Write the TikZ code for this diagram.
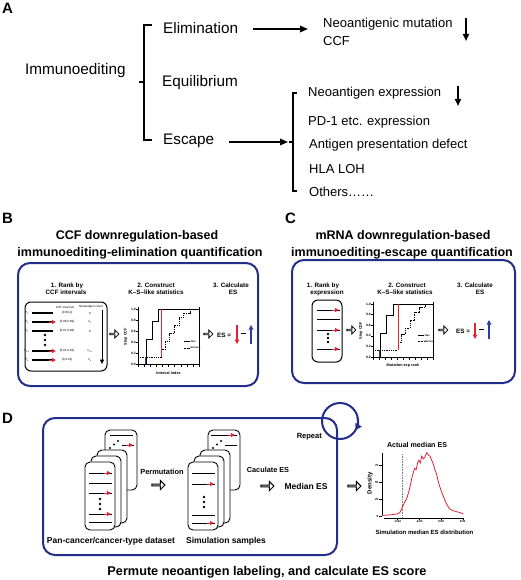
\documentclass[tikz,border=0pt]{standalone}
\usepackage{fontspec}
\setmainfont{Liberation Sans}
\usetikzlibrary{arrows.meta,shapes.arrows}
\definecolor{navy}{RGB}{35,45,140}
\definecolor{myred}{RGB}{228,32,52}
\definecolor{myblue}{RGB}{45,60,165}
\newcommand\fsz[1]{\fontsize{#1}{#1}\selectfont}
\newcommand\ksplot[4]{%
  \draw[line width=0.35pt] (0,1.04) -- (0,0) -- (10,0) -- (10,1.04);
  \foreach \v/\l in {0/0.0,0.2/0.2,0.4/0.4,0.6/0.6,0.8/0.8,1/1.0}
    {\draw[line width=0.3pt] (0,\v) -- (-0.3,\v) node[anchor=east, inner sep=0.4pt, font=\fsz{3.3}\bfseries] {\l};}
  \foreach \i in {0,...,10} {\draw[line width=0.3pt] (\i,0) -- (\i,-0.05);}
  \node[rotate=90, font=\fsz{3.8}\bfseries, inner sep=0pt] at (-2.0,0.5) {#1};
  \node[font=\fsz{3.8}\bfseries, inner sep=0pt] at (5,-0.17) {#2};
  \draw[line width=0.8pt] (0,0) -| (1.3,0.45) -| (2.3,0.78) -| (3.4,1) -- (10,1);
  \draw[line width=0.7pt, dash pattern=on 1pt off 0.8pt] (0,0.13) -| ({#3},0.27) -| ({#3+0.6},0.42) -| ({#3+1.3},0.55) -| ({#3+2},0.7) -| ({#3+2.8},0.85) -| ({#3+3.6},0.93) -| ({#3+4.6},1) -- (10,1);
  \draw[myred, line width=1pt] ({#3},0.13) -- ({#3},1);
  \draw[myblue, line width=1pt] ({#4},0) -- ({#4},0.13);
  \draw[line width=0.8pt] (7.5,0.41) -- (8.5,0.41) node[anchor=west, font=\fsz{2.6}\bfseries, inner sep=0.5pt] {Neo};
  \draw[line width=0.7pt, dash pattern=on 0.8pt off 0.6pt] (7.5,0.29) -- (8.5,0.29) node[anchor=west, font=\fsz{2.6}\bfseries, inner sep=0.5pt] {Nonneo};
}
\newcommand\rankrow[4]{%
  \node[tinytxt] at (27,#1) {P\textsubscript{#2}};
  \draw[line width=2.2pt] (32,#1) -- (53,#1);
  \node[tinytxt] at (67,#1) {#3};
  \node[tinytxt] at (90,#1) {#4};
}
\begin{document}
\begin{tikzpicture}[x=1pt,y=-1pt,
  plabel/.style={font=\fsz{15}\bfseries, anchor=north west, inner sep=0pt},
  bigtxt/.style={font=\fsz{15.3}, anchor=base west, inner sep=0pt},
  medtxt/.style={font=\fsz{13}, anchor=base west, inner sep=0pt},
  ttl/.style={font=\fsz{12.5}\bfseries, anchor=base, inner sep=0pt},
  subttl/.style={font=\fsz{6.3}\bfseries, anchor=base, inner sep=0pt},
  tinytxt/.style={font=\fsz{3}, inner sep=0.3pt},
  panelbox/.style={draw=navy, line width=2pt, rounded corners=12pt},
  thinbox/.style={draw=black, line width=1pt, rounded corners=6pt},
  card/.style={draw=black, line width=0.9pt, rounded corners=5pt, fill=white},
  bigarrow/.style={line width=1.6pt, -{Triangle[length=8pt,width=6.5pt]}},
  downarrow/.style={line width=1.7pt, -{Triangle[length=7pt,width=6pt]}},
  brack/.style={line width=1.1pt},
  blockarr/.style={single arrow, draw=black, fill=white, line width=1pt, minimum height=13pt, minimum width=9pt, single arrow head extend=2pt, inner sep=0pt, single arrow tip angle=90},
  smallblock/.style={blockarr, line width=0.8pt, minimum height=9pt, minimum width=8pt, single arrow head extend=1.8pt},
  redhead/.style={myred, line width=0.8pt, -{Triangle[length=4pt,width=3.8pt]}},
  thinline/.style={line width=0.7pt},
  blackdot/.style={circle, fill=black, inner sep=0pt, minimum size=2.8pt},
  smalldot/.style={circle, fill=black, inner sep=0pt, minimum size=2.2pt},
  esarrow/.style={line width=1.1pt, -{Triangle[length=4.5pt,width=4.5pt]}},
]
\useasboundingbox (0,0) rectangle (520,580);

% ---------------- Panel A ----------------
\node[plabel] (lA) at (2,3) {A};
\node[bigtxt] (immuno) at (25,75) {Immunoediting};
\node[bigtxt] (elim) at (163,34) {Elimination};
\node[bigtxt] (equil) at (162,87) {Equilibrium};
\node[bigtxt] (escape) at (163,145) {Escape};
\draw[brack] (152,25) -- (144,25) -- (144,140) -- (152,140);
\draw[brack] (144,82) -- (139,82);
\coordinate (e1s) at (253,29); \coordinate (e1e) at (308,29);
\draw[bigarrow] (e1s) -- (e1e);
\node[medtxt] (neomut) at (323,28) {Neoantigenic mutation};
\node[medtxt] (ccf) at (323,46) {CCF};
\coordinate (d1s) at (466,18); \coordinate (d1e) at (466,41);
\draw[downarrow] (d1s) -- (d1e);
\coordinate (e2s) at (229,142); \coordinate (e2e) at (288,142);
\draw[bigarrow] (e2s) -- (e2e);
\draw[brack] (297,93) -- (293,93) -- (293,191) -- (297,191);
\draw[brack] (293,142) -- (289,142);
\node[medtxt] (neoexp) at (308,97) {Neoantigen expression};
\coordinate (d2s) at (458,86); \coordinate (d2e) at (458,106);
\draw[downarrow] (d2s) -- (d2e);
\node[medtxt] (pd1) at (308,126) {PD-1 etc. expression};
\node[medtxt] (apd) at (309,149) {Antigen presentation defect};
\node[medtxt] (hla) at (309,173) {HLA LOH};
\node[medtxt] (others) at (309,196) {Others……};

% ---------------- Panel B / C titles ----------------
\node[plabel] (lB) at (2,213) {B};
\node[plabel] (lC) at (285,213) {C};
\node[ttl] (tb1) at (137,239) {CCF downregulation-based};
\node[ttl] (tb2) at (140,256) {immunoediting-elimination quantification};
\node[ttl] (tc1) at (403,239) {mRNA downregulation-based};
\node[ttl] (tc2) at (402,256) {immunoediting-escape quantification};
\draw[panelbox] (18,263) rectangle (258,386);
\draw[panelbox] (292,260) rectangle (515,383);

% ---------------- Panel B content ----------------
\node[subttl] (b1a) at (67,287) {1. Rank by};
\node[subttl] (b1b) at (66,294) {CCF intervals};
\node[subttl] (b2a) at (156,287) {2. Construct};
\node[subttl] (b2b) at (156,294) {K–S–like statistics};
\node[subttl] (b3a) at (231,287) {3. Calculate};
\node[subttl] (b3b) at (233,294) {ES};
\draw[thinbox] (25,302) rectangle (107,371);
\node[tinytxt] (hb1) at (65,307) {CCF intervals};
\node[tinytxt] (hb2) at (91,307) {Neoantigen count};
\rankrow{313}{1}{[0.99,1]}{0}
\rankrow{322}{2}{[0.98,0.99]}{n\textsubscript{2}}
\rankrow{331}{3}{[0.97,0.98]}{0}
\rankrow{351}{n-1}{[0.01,0.02]}{n\textsubscript{n-1}}
\rankrow{360}{n}{[0,0.01]}{n\textsubscript{n}}
\draw[redhead] (49,322) -- (56,322);
\draw[redhead] (49,351) -- (56,351);
\draw[redhead] (49,360) -- (56,360);
\node[blackdot] (bd1) at (45,335) {};
\node[blackdot] (bd2) at (45,340) {};
\node[blackdot] (bd3) at (45,345) {};
\coordinate (ra1) at (102,310); \coordinate (ra2) at (102,364);
\draw[line width=0.9pt, -{Triangle[length=4.5pt,width=4pt]}] (ra1) -- (ra2);
\node[smallblock] (hbB1) at (114,334) {};
\begin{scope}[shift={(138,364)}, x=6.1pt, y=55pt]
  \ksplot{Step CCF}{Interval index}{3.9}{1.2}
\end{scope}
\node[smallblock] (hbB2) at (208,334) {};
\node[subttl, anchor=base west] (esB) at (217,337) {ES =};
\draw[esarrow, myred] (237,325) -- (237,344);
\draw[line width=0.8pt] (241,333) -- (246,333);
\draw[esarrow, myblue] (251,344) -- (251,325);

% ---------------- Panel C content ----------------
\node[subttl] (c1a) at (323,287) {1. Rank by};
\node[subttl] (c1b) at (327,294) {expression};
\node[subttl] (c2a) at (407,287) {2. Construct};
\node[subttl] (c2b) at (405,294) {K–S–like statistics};
\node[subttl] (c3a) at (475,287) {3. Calculate};
\node[subttl] (c3b) at (480,294) {ES};
\draw[thinbox] (312,300) rectangle (342,362);
\draw[thinline] (317,310) -- (340,310);
\draw[redhead] (332,310) -- (339,310);
\draw[thinline] (317,319) -- (340,319);
\draw[thinline] (317,330) -- (340,330);
\draw[redhead] (332,330) -- (339,330);
\node[blackdot] (cd1) at (328,334) {};
\node[blackdot] (cd2) at (328,338) {};
\node[blackdot] (cd3) at (328,342) {};
\draw[thinline] (317,349) -- (340,349);
\draw[redhead] (332,349) -- (339,349);
\node[smallblock] (hbC1) at (351,330) {};
\begin{scope}[shift={(373,357)}, x=6pt, y=53pt]
  \ksplot{Step CDF}{Mutation exp rank}{4.17}{1.0}
\end{scope}
\node[smallblock] (hbC2) at (443,330) {};
\node[subttl, anchor=base west] (esC) at (456,333) {ES =};
\draw[esarrow, myred] (475,323) -- (475,339);
\draw[line width=0.8pt] (479,329) -- (484,329);
\draw[esarrow, myblue] (489,339) -- (489,320);

% ---------------- Panel D ----------------
\node[plabel] (lD) at (2,413) {D};
\draw[panelbox] (43,418) rectangle (337,555);
\draw[navy, line width=2pt] (340,421) circle[radius=18];
\draw[navy, line width=2pt, -{Triangle[length=6pt,width=7pt]}] (340,421) ++(-10:18) arc[start angle=-10, end angle=30, radius=18];
\node[font=\fsz{7.5}\bfseries, anchor=base east, inner sep=0pt] (rep) at (322,438) {Repeat};

% stack 1
\draw[card] (105,430) rectangle (137,490);
\draw[thinline] (110,435) -- (133,435);
\node[smalldot] (s1a) at (110,448) {};
\node[smalldot] (s1b) at (114,444.5) {};
\node[smalldot] (s1c) at (118,441) {};
\draw[thinline] (122,445) -- (134,445);
\draw[redhead] (126,445) -- (133,445);
\draw[card] (97,450) rectangle (127,523);
\draw[card] (91,456) rectangle (121,527);
\draw[card] (85,462) rectangle (115,530);
\draw[thinline] (89,473) -- (112,473); \draw[redhead] (104,473) -- (111,473);
\draw[thinline] (89,483) -- (112,483);
\draw[thinline] (89,493) -- (112,493); \draw[redhead] (104,493) -- (111,493);
\node[blackdot] (s1d1) at (100,499) {};
\node[blackdot] (s1d2) at (100,504) {};
\node[blackdot] (s1d3) at (100,509) {};
\draw[thinline] (89,514) -- (112,514); \draw[redhead] (104,514) -- (111,514);
\draw[thinline] (89,522) -- (112,522);

% stack 2
\draw[card] (208,430) rectangle (240,490);
\draw[thinline] (211,435) -- (237,435); \draw[redhead] (228,435) -- (235,435);
\node[smalldot] (s2a) at (213,448) {};
\node[smalldot] (s2b) at (217,444.5) {};
\node[smalldot] (s2c) at (221,441) {};
\draw[thinline] (225,445) -- (237,445);
\draw[card] (200,450) rectangle (230,523);
\draw[card] (194,456) rectangle (224,527);
\draw[card] (188,462) rectangle (218,530);
\draw[thinline] (192,473) -- (215,473);
\draw[thinline] (192,484) -- (215,484); \draw[redhead] (207,484) -- (214,484);
\node[blackdot] (s2d1) at (204,497) {};
\node[blackdot] (s2d2) at (204,502) {};
\node[blackdot] (s2d3) at (204,507) {};
\draw[thinline] (192,515) -- (215,515);
\draw[thinline] (192,523) -- (215,523); \draw[redhead] (207,523) -- (214,523);

\node[font=\fsz{7.4}\bfseries, anchor=base, inner sep=0pt] (perm) at (162,474) {Permutation};
\node[blockarr] (hd1) at (158,485) {};
\node[font=\fsz{8.5}\bfseries, anchor=base, inner sep=0pt] (pan) at (111,543) {Pan-cancer/cancer-type dataset};
\node[font=\fsz{8.5}\bfseries, anchor=base, inner sep=0pt] (sim) at (226,543) {Simulation samples};
\node[font=\fsz{7.3}\bfseries, anchor=base, inner sep=0pt] (calc) at (268,472) {Caculate ES};
\node[blockarr] (hd2) at (267,486) {};
\node[font=\fsz{8.5}\bfseries, anchor=base, inner sep=0pt] (med) at (306,489) {Median ES};
\node[blockarr] (hd3) at (354,486) {};

% density plot
\node[font=\fsz{7.1}\bfseries, anchor=base, inner sep=0pt] (act) at (417,447) {Actual median ES};
\node[font=\fsz{6}\bfseries, anchor=base, inner sep=0pt] (simdist) at (424.5,534) {Simulation median ES distribution};
\begin{scope}[shift={(441,516)}, x=2.17pt, y=0.68pt]
  \draw[line width=0.45pt] (-27.2,0) -- (-27.2,92);
  \foreach \v in {0,25,50,75} {\draw[line width=0.4pt] (-27.2,\v) -- (-28.6,\v) node[anchor=east, inner sep=0.4pt, font=\fsz{3}\bfseries] {\v};}
  \draw[line width=0.45pt] (-26.5,-3.4) -- (10.3,-3.4);
  \foreach \t/\l in {-20/-0.02,-10/-0.01,0/0.00,10/0.01} {\draw[line width=0.4pt] (\t,-3.4) -- (\t,-5.4) node[anchor=north, inner sep=0.4pt, font=\fsz{3}\bfseries] {\l};}
  \node[rotate=90, font=\fsz{6}\bfseries, inner sep=0pt] (dens) at (-32.7,48) {Density};
  \draw[gray, line width=0.45pt, dash pattern=on 0.8pt off 0.8pt] (-18,-2) -- (-18,92);
  \draw[myred, line width=0.8pt] plot[smooth, tension=0.5] coordinates {(-27,1) (-24,1.5) (-20.4,3) (-19,5) (-18.1,11) (-16.8,20) (-15.8,26) (-14.5,40) (-13.5,55) (-12.8,63) (-12.2,70) (-11.5,68) (-10.8,78) (-10.2,82) (-9.5,78) (-8.9,88) (-8.2,84) (-7.5,86) (-6.6,93) (-5.9,90) (-5.1,88) (-4.3,82) (-3.5,76) (-2.8,68) (-2.0,61) (-1.2,50) (-0.4,42) (0.3,35) (1.1,29) (1.9,22) (2.7,17) (3.5,13) (4.2,10) (5.3,8) (6.5,7) (7.6,6) (8.8,5) (10.3,3)};
\end{scope}

\node[font=\fsz{12.7}\bfseries, anchor=base, inner sep=0pt] (bottom) at (267,575) {Permute neoantigen labeling, and calculate ES score};
\end{tikzpicture}
\end{document}
